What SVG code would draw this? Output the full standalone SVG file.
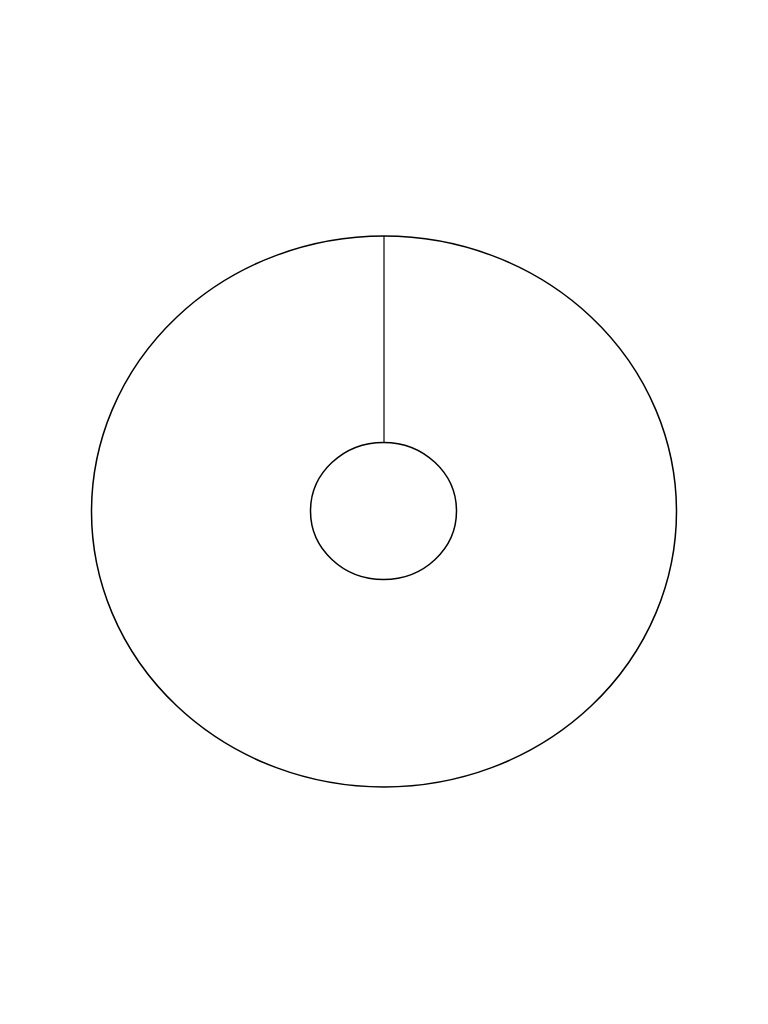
<svg xmlns="http://www.w3.org/2000/svg" width="768" height="1024" viewBox="0 0 768 1024">
<style>
.shape{fill:#ffffff;stroke:#000000;stroke-width:1.5}
.conn{stroke:#000000;stroke-width:1.2;fill:none}
</style>
<rect width="768" height="1024" fill="#ffffff"/>
<g id="outer"><ellipse class="shape" cx="384" cy="511.5" rx="292.5" ry="275.5"/></g>
<g id="inner"><ellipse class="shape" cx="383.5" cy="511" rx="73" ry="68.5"/></g>
<g id="connectors"><line class="conn" x1="384" y1="236" x2="384" y2="442.5"/></g>
</svg>
